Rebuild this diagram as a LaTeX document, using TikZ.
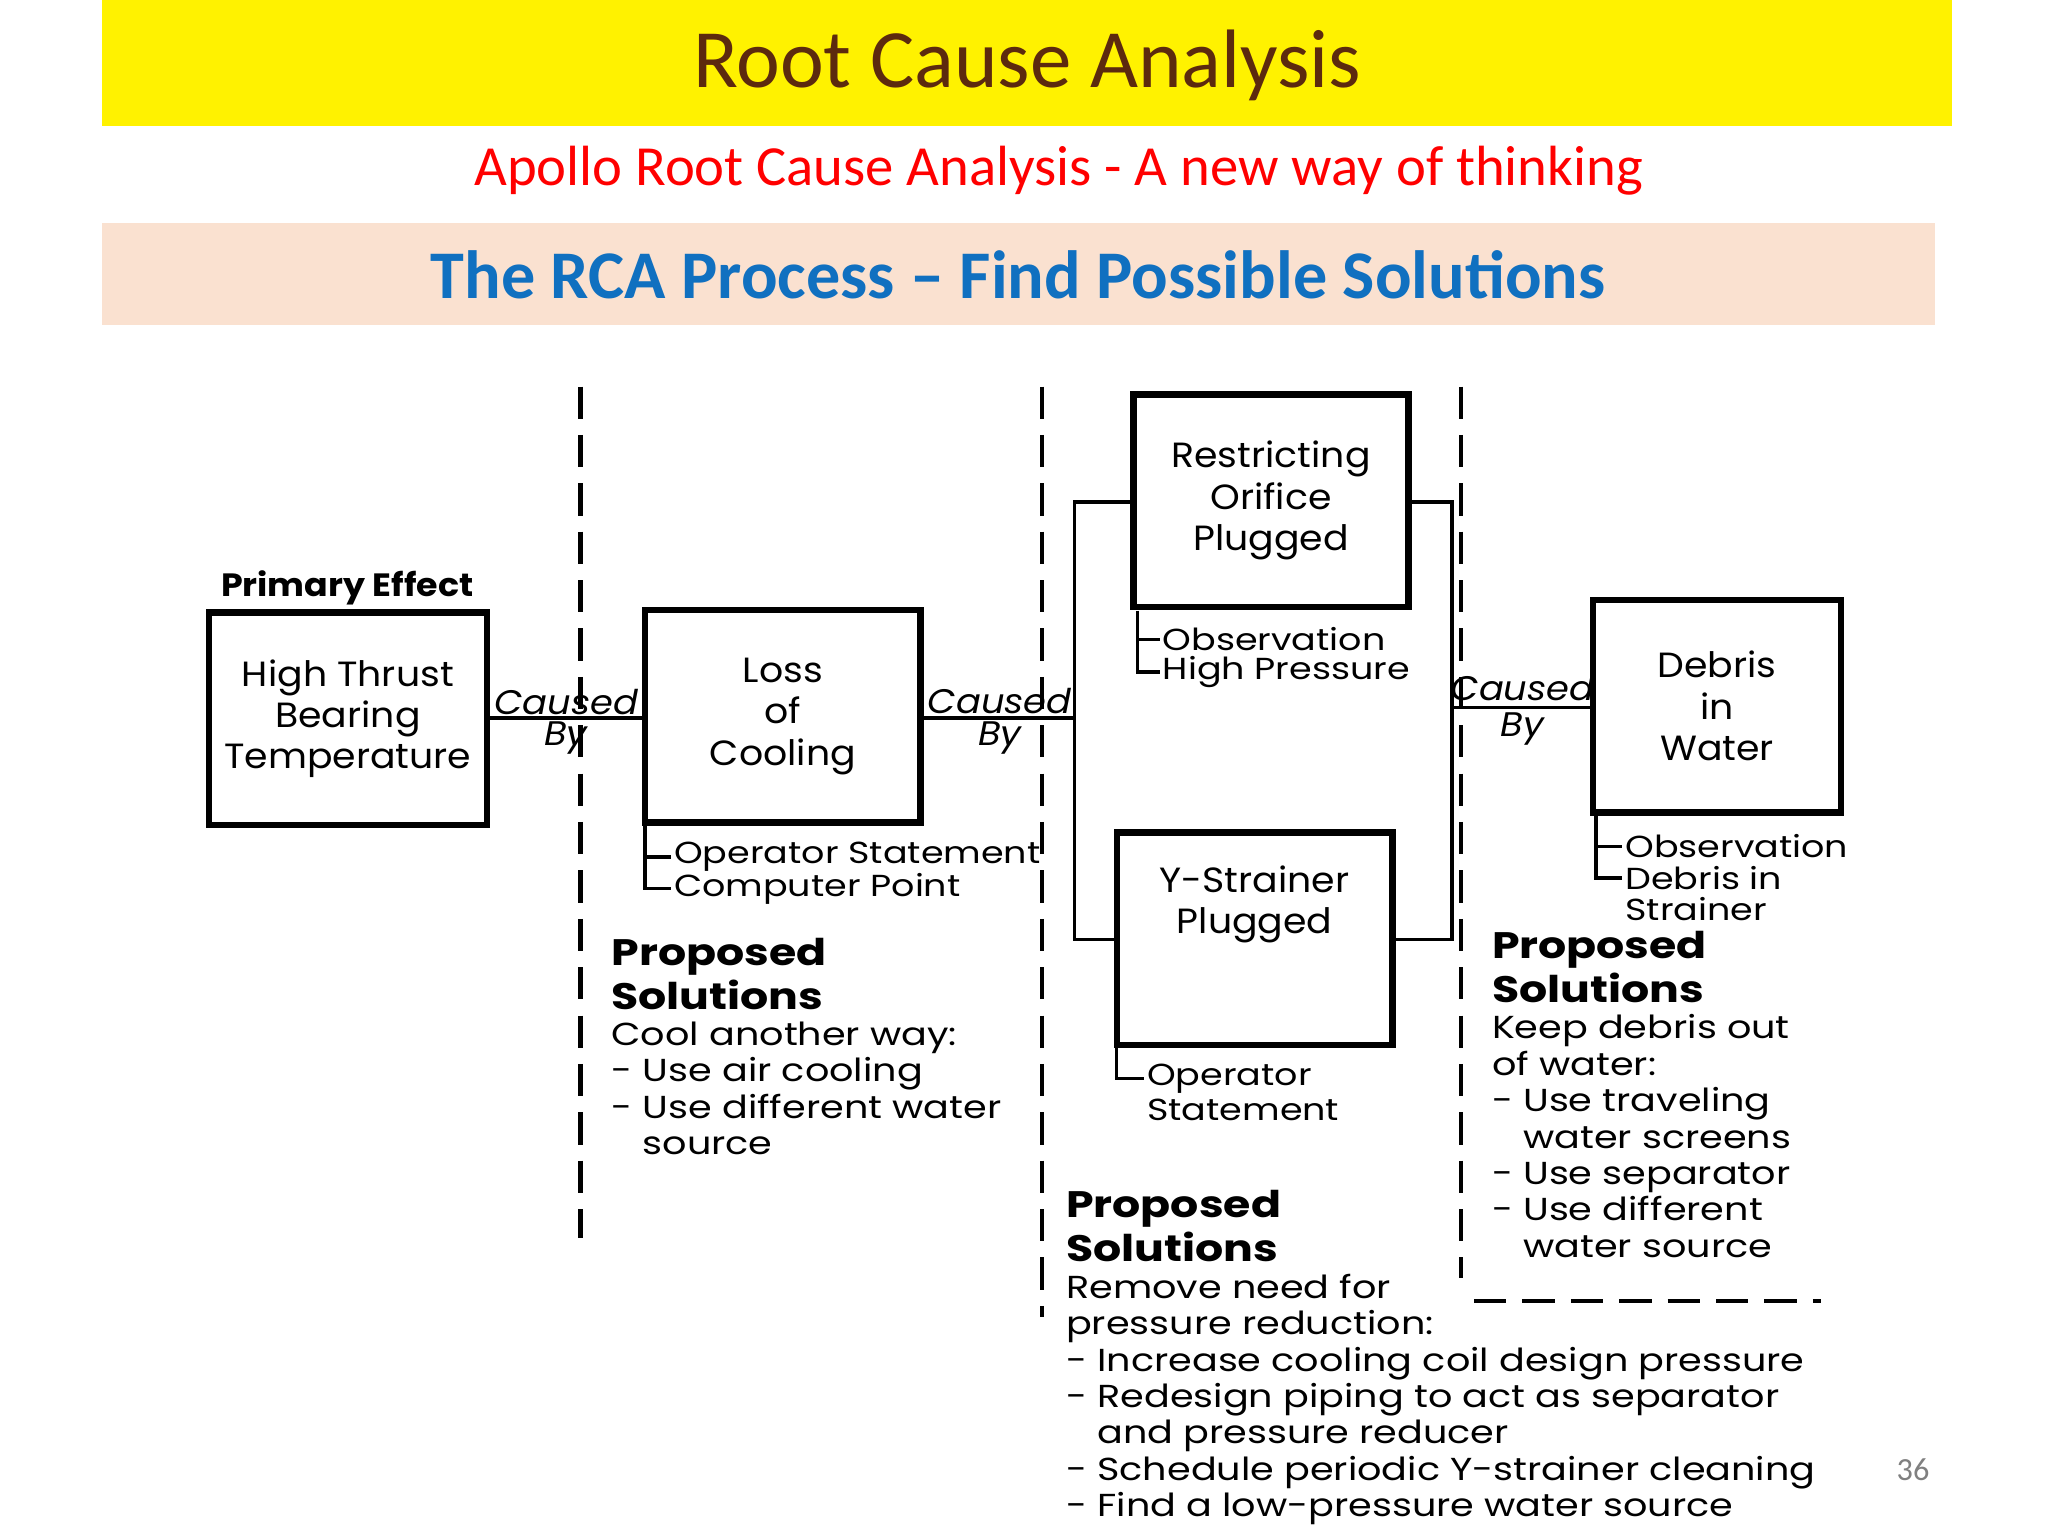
\documentclass[tikz,border=0pt]{standalone}
\usepackage{fontspec}
\setmainfont{Carlito}
\newfontfamily\diag{Poppins}[FakeStretch=1.2]
\newfontfamily\boxfont{Poppins}[FakeStretch=1.08]
\usetikzlibrary{positioning,calc}
\definecolor{titlebrown}{HTML}{5C2A0E}
\definecolor{peach}{HTML}{FAE1D0}
\definecolor{rcablue}{HTML}{1070C0}
\newcommand{\propsol}[1]{\textbf{\fontsize{8}{9.4}\selectfont #1}}
\tikzset{
  cbox/.style={draw, line width=1.4pt, minimum width=2.1cm, minimum height=1.62cm, align=center, font=\boxfont\fontsize{7.6}{9}\selectfont},
  note/.style={anchor=west, inner sep=0.5pt, font=\diag\fontsize{6.6}{7}\selectfont},
  sol/.style={anchor=north west, align=left, inner sep=0pt, font=\diag\fontsize{6.9}{7.9}\selectfont},
  cby/.style={font=\boxfont\itshape\fontsize{7.4}{8}\selectfont, inner sep=0pt},
  sep/.style={line width=0.9pt, dash pattern=on 7pt off 3.5pt},
  link/.style={line width=0.8pt}
}
\begin{document}
\begin{tikzpicture}[x=0.01cm, y=-0.01cm]
\useasboundingbox (0,0) rectangle (1563,1172);
% banners
\fill[yellow] (78,0) rectangle (1490,96);
\node[text=titlebrown, font=\fontsize{18}{21}\selectfont] (title) at (784,50) {Root Cause Analysis};
\node[text=red, font=\fontsize{12.3}{14}\selectfont] (sub) at (808,130) {Apollo Root Cause Analysis - A new way of thinking};
\fill[peach] (78,170) rectangle (1477,248);
\node[text=rcablue, font=\bfseries\fontsize{14.8}{17}\selectfont] (head) at (777,210) {The RCA Process -- Find Possible Solutions};
\node[text=gray, font=\fontsize{7}{8}\selectfont] (page) at (1460,1122) {36};

% boxes
\node[cbox] (effect) at (265.5,548.5) {High Thrust\\Bearing\\Temperature};
\node[font=\boxfont\bfseries\fontsize{7}{8}\selectfont] (primary) at (265,449) {Primary Effect};
\node[cbox] (cooling) at (597.5,546.5) {Loss\\of\\Cooling};
\node[cbox] (orifice) at (970,382) {Restricting\\Orifice\\Plugged};
\node[cbox, text depth=0.6cm] (strainer) at (957.5,716.5) {Y-Strainer\\Plugged};
\node[cbox, minimum width=1.89cm] (debris) at (1310.5,539) {Debris\\in\\Water};

% separators
\draw[sep] (443,295) -- (443,945);
\draw[sep] (795,295) -- (795,1005);
\draw[sep] (1115,295) -- (1115,975);
\draw[sep] (1125,993) -- (1390,993);

% connectors
\coordinate (lbr) at (820,548);
\coordinate (rbr) at (1108,540);
\draw[link] (effect.east |- 0,548) -- (cooling.west |- 0,548);
\draw[link] (cooling.east |- lbr) -- (lbr);
\draw[link] (orifice.west |- 0,383) -| (820,717) -- (strainer.west |- 0,717);
\draw[link] (orifice.east |- 0,383) -| (1108,717) -- (strainer.east |- 0,717);
\draw[link] (rbr) -- (debris.west |- rbr);
\node[cby] (c1) at (432,536) {Caused};
\node[cby] (b1) at (432,563) {By};
\node[cby] (c2) at (763,535) {Caused};
\node[cby] (b2) at (763,563) {By};
\node[cby] (c3) at (1162,525) {Caused};
\node[cby] (b3) at (1162,556) {By};

% evidence
\node[note] (o1) at (512,654) {Operator Statement};
\node[note] (o2) at (512,678) {Computer Point};
\draw[link] (492,630) |- (o1.west) (492,654) |- (o2.west);
\node[note] (o3) at (885,488) {Observation};
\node[note] (o4) at (885,513) {High Pressure};
\draw[link] (868,466) |- (o3.west) (868,488) |- (o4.west);
\node[note] (o5) at (873,823) {Operator};
\node[note] (o6) at (873,847) {Statement};
\draw[link] (852,800) |- (o5.west);
\node[note] (o7) at (1238,646) {Observation};
\node[note] (o8) at (1238,670) {Debris in};
\node[note] (o9) at (1238,694) {Strainer};
\draw[link] (1218,622) |- (o7.west) (1218,646) |- (o8.west);

% solutions
\node[sol] (s1) at (466,715) {\propsol{Proposed}\\\propsol{Solutions}\\Cool another way:\\- Use air cooling\\- Use different water\\\hphantom{- }source};
\node[sol] (s2) at (813,908) {\propsol{Proposed}\\\propsol{Solutions}\\Remove need for\\pressure reduction:\\- Increase cooling coil design pressure\\- Redesign piping to act as separator\\\hphantom{- }and pressure reducer\\- Schedule periodic Y-strainer cleaning\\- Find a low-pressure water source};
\node[sol] (s3) at (1138,710) {\propsol{Proposed}\\\propsol{Solutions}\\Keep debris out\\of water:\\- Use traveling\\\hphantom{- }water screens\\- Use separator\\- Use different\\\hphantom{- }water source};
\end{tikzpicture}
\end{document}
